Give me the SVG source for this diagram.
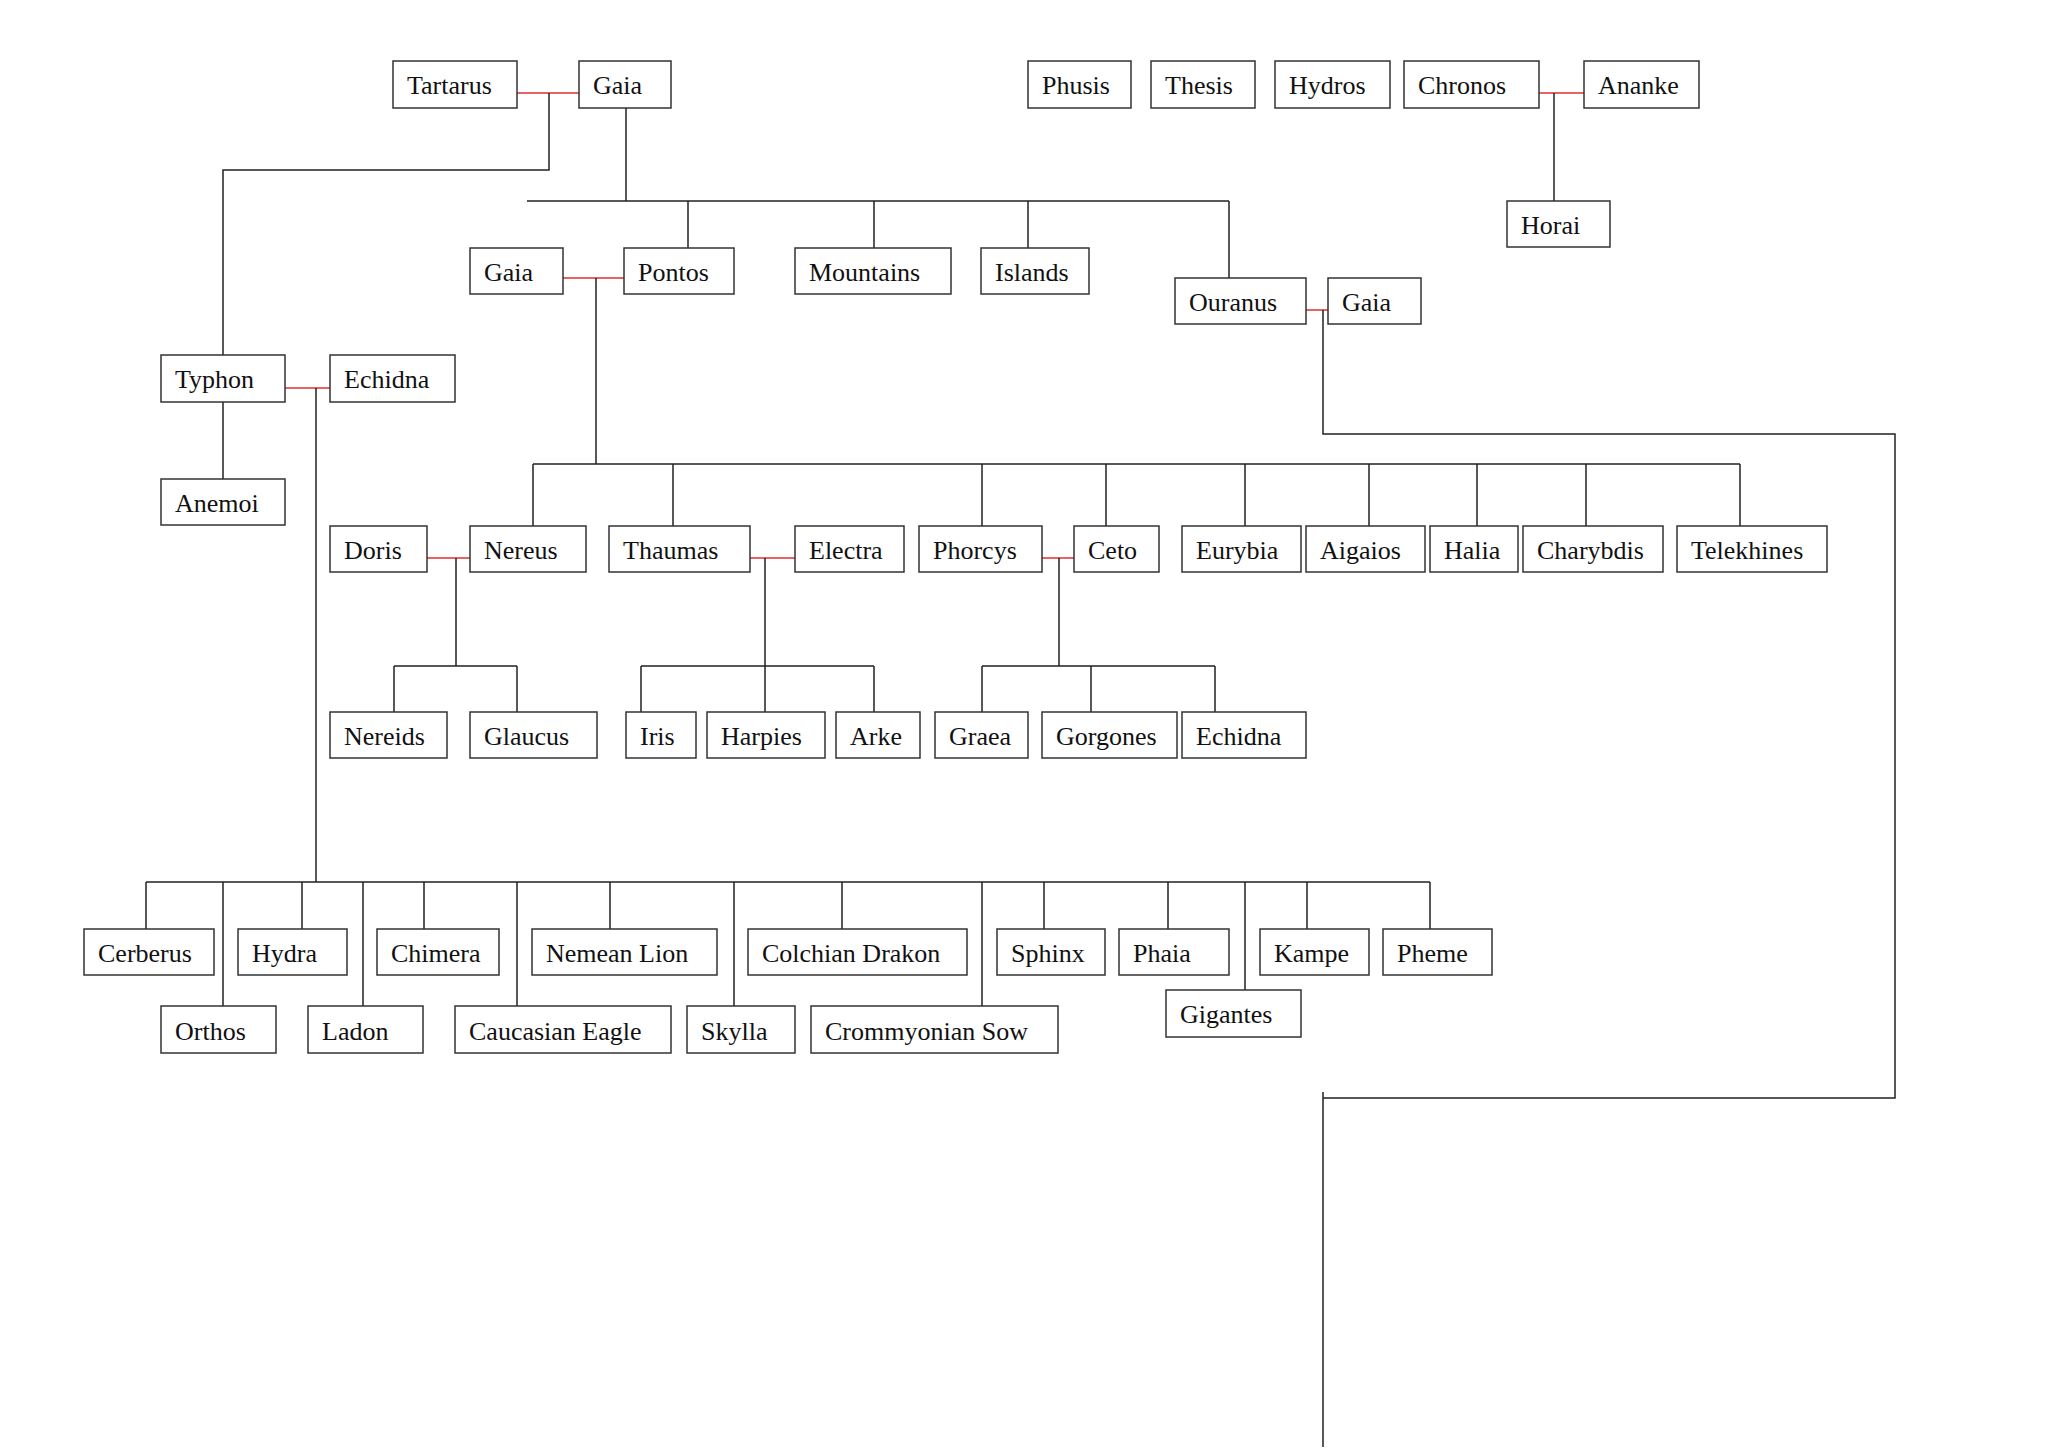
<svg xmlns="http://www.w3.org/2000/svg" width="2048" height="1448" viewBox="0 0 2048 1448">
<style>
rect{fill:#fff;stroke:#333;stroke-width:1.5}
text{font-family:"Liberation Serif",serif;font-size:26px;fill:#111}
.c path{fill:none;stroke:#222;stroke-width:1.5}
.c .r{stroke:#e03030}
</style>
<rect x="0" y="0" width="2048" height="1448" style="stroke:none"/>
<g class="c">
<path class="r" d="M517 93H579M1539 93H1584M563 278H624M1306 310H1328M285 388H330M427 558H470M750 558H795M1042 558H1074"/>
<path d="M549 93V170H223V355M626 108V201M527 201H1229M688 201V248M874 201V248M1028 201V248M1229 201V278"/>
<path d="M1554 93V201"/>
<path d="M596 278V464M533 464H1740M533 464V526M673 464V526M982 464V526M1106 464V526M1245 464V526M1369 464V526M1477 464V526M1586 464V526M1740 464V526"/>
<path d="M1323 310V434H1895V1098H1323M1323 1092V1447"/>
<path d="M223 402V479M316 388V882M146 882H1430M146 882V929M302 882V929M424 882V929M610 882V929M842 882V929M1044 882V929M1168 882V929M1307 882V929M1430 882V929M223 882V1006M363 882V1006M517 882V1006M734 882V1006M982 882V1006M1245 882V990"/>
<path d="M456 558V666M394 666H517M394 666V712M517 666V712"/>
<path d="M765 558V666M641 666H874M641 666V712M765 666V712M874 666V712"/>
<path d="M1059 558V666M982 666H1215M982 666V712M1091 666V712M1215 666V712"/>
</g>
<g id="n-tartarus"><rect x="393" y="61" width="124" height="47"/><text x="407" y="94">Tartarus</text></g>
<g id="n-gaia1"><rect x="579" y="61" width="92" height="47"/><text x="593" y="94">Gaia</text></g>
<g id="n-phusis"><rect x="1028" y="61" width="103" height="47"/><text x="1042" y="94">Phusis</text></g>
<g id="n-thesis"><rect x="1151" y="61" width="104" height="47"/><text x="1165" y="94">Thesis</text></g>
<g id="n-hydros"><rect x="1275" y="61" width="115" height="47"/><text x="1289" y="94">Hydros</text></g>
<g id="n-chronos"><rect x="1404" y="61" width="135" height="47"/><text x="1418" y="94">Chronos</text></g>
<g id="n-ananke"><rect x="1584" y="61" width="115" height="47"/><text x="1598" y="94">Ananke</text></g>
<g id="n-horai"><rect x="1507" y="201" width="103" height="46"/><text x="1521" y="234">Horai</text></g>
<g id="n-gaia2"><rect x="470" y="248" width="93" height="46"/><text x="484" y="281">Gaia</text></g>
<g id="n-pontos"><rect x="624" y="248" width="110" height="46"/><text x="638" y="281">Pontos</text></g>
<g id="n-mountains"><rect x="795" y="248" width="156" height="46"/><text x="809" y="281">Mountains</text></g>
<g id="n-islands"><rect x="981" y="248" width="108" height="46"/><text x="995" y="281">Islands</text></g>
<g id="n-ouranus"><rect x="1175" y="278" width="131" height="46"/><text x="1189" y="311">Ouranus</text></g>
<g id="n-gaia3"><rect x="1328" y="278" width="93" height="46"/><text x="1342" y="311">Gaia</text></g>
<g id="n-typhon"><rect x="161" y="355" width="124" height="47"/><text x="175" y="388">Typhon</text></g>
<g id="n-echidna1"><rect x="330" y="355" width="125" height="47"/><text x="344" y="388">Echidna</text></g>
<g id="n-anemoi"><rect x="161" y="479" width="124" height="46"/><text x="175" y="512">Anemoi</text></g>
<g id="n-doris"><rect x="330" y="526" width="97" height="46"/><text x="344" y="559">Doris</text></g>
<g id="n-nereus"><rect x="470" y="526" width="116" height="46"/><text x="484" y="559">Nereus</text></g>
<g id="n-thaumas"><rect x="609" y="526" width="141" height="46"/><text x="623" y="559">Thaumas</text></g>
<g id="n-electra"><rect x="795" y="526" width="109" height="46"/><text x="809" y="559">Electra</text></g>
<g id="n-phorcys"><rect x="919" y="526" width="123" height="46"/><text x="933" y="559">Phorcys</text></g>
<g id="n-ceto"><rect x="1074" y="526" width="85" height="46"/><text x="1088" y="559">Ceto</text></g>
<g id="n-eurybia"><rect x="1182" y="526" width="119" height="46"/><text x="1196" y="559">Eurybia</text></g>
<g id="n-aigaios"><rect x="1306" y="526" width="119" height="46"/><text x="1320" y="559">Aigaios</text></g>
<g id="n-halia"><rect x="1430" y="526" width="88" height="46"/><text x="1444" y="559">Halia</text></g>
<g id="n-charybdis"><rect x="1523" y="526" width="140" height="46"/><text x="1537" y="559">Charybdis</text></g>
<g id="n-telekhines"><rect x="1677" y="526" width="150" height="46"/><text x="1691" y="559">Telekhines</text></g>
<g id="n-nereids"><rect x="330" y="712" width="117" height="46"/><text x="344" y="745">Nereids</text></g>
<g id="n-glaucus"><rect x="470" y="712" width="127" height="46"/><text x="484" y="745">Glaucus</text></g>
<g id="n-iris"><rect x="626" y="712" width="70" height="46"/><text x="640" y="745">Iris</text></g>
<g id="n-harpies"><rect x="707" y="712" width="118" height="46"/><text x="721" y="745">Harpies</text></g>
<g id="n-arke"><rect x="836" y="712" width="84" height="46"/><text x="850" y="745">Arke</text></g>
<g id="n-graea"><rect x="935" y="712" width="93" height="46"/><text x="949" y="745">Graea</text></g>
<g id="n-gorgones"><rect x="1042" y="712" width="135" height="46"/><text x="1056" y="745">Gorgones</text></g>
<g id="n-echidna2"><rect x="1182" y="712" width="124" height="46"/><text x="1196" y="745">Echidna</text></g>
<g id="n-cerberus"><rect x="84" y="929" width="130" height="46"/><text x="98" y="962">Cerberus</text></g>
<g id="n-hydra"><rect x="238" y="929" width="109" height="46"/><text x="252" y="962">Hydra</text></g>
<g id="n-chimera"><rect x="377" y="929" width="122" height="46"/><text x="391" y="962">Chimera</text></g>
<g id="n-nemean"><rect x="532" y="929" width="185" height="46"/><text x="546" y="962">Nemean Lion</text></g>
<g id="n-colchian"><rect x="748" y="929" width="219" height="46"/><text x="762" y="962">Colchian Drakon</text></g>
<g id="n-sphinx"><rect x="997" y="929" width="108" height="46"/><text x="1011" y="962">Sphinx</text></g>
<g id="n-phaia"><rect x="1119" y="929" width="110" height="46"/><text x="1133" y="962">Phaia</text></g>
<g id="n-kampe"><rect x="1260" y="929" width="109" height="46"/><text x="1274" y="962">Kampe</text></g>
<g id="n-pheme"><rect x="1383" y="929" width="109" height="46"/><text x="1397" y="962">Pheme</text></g>
<g id="n-orthos"><rect x="161" y="1006" width="115" height="47"/><text x="175" y="1040">Orthos</text></g>
<g id="n-ladon"><rect x="308" y="1006" width="115" height="47"/><text x="322" y="1040">Ladon</text></g>
<g id="n-caucasian"><rect x="455" y="1006" width="216" height="47"/><text x="469" y="1040">Caucasian Eagle</text></g>
<g id="n-skylla"><rect x="687" y="1006" width="108" height="47"/><text x="701" y="1040">Skylla</text></g>
<g id="n-crommyonian"><rect x="811" y="1006" width="247" height="47"/><text x="825" y="1040">Crommyonian Sow</text></g>
<g id="n-gigantes"><rect x="1166" y="990" width="135" height="47"/><text x="1180" y="1023">Gigantes</text></g>
</svg>
